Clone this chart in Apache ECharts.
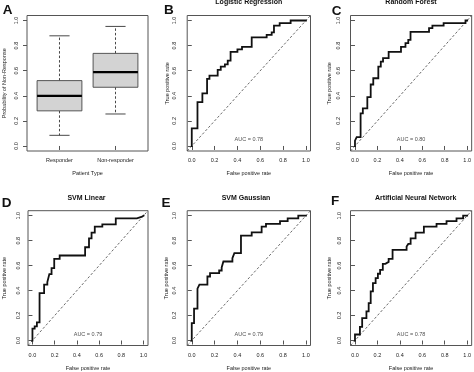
<!DOCTYPE html>
<html><head><meta charset="utf-8">
<script src="https://cdn.jsdelivr.net/npm/echarts@6/dist/echarts.min.js"></script>
<style>html,body{margin:0;padding:0;background:#fff}#c{width:474px;height:372px}</style>
</head><body><div id="c"></div>
<script>
// ---- Panel A: box plot data ----
const categories = ['Responder', 'Non-responder'];
const boxMin = [0.085, 0.255];
const boxQ1 = [0.28, 0.468];
const boxMedian = [0.40, 0.588];
const boxQ3 = [0.521, 0.738];
const boxMax = [0.878, 0.953];

// ---- Panels B-F: ROC curves (points where each step rises) ----
const rocTitles = ['Logistic Regression', 'Random Forest', 'SVM Linear', 'SVM Gaussian', 'Artificial Neural Network'];
const aucValues = ['0.78', '0.80', '0.79', '0.79', '0.78'];

const lrFpr = [0, 0, 0.05, 0.093, 0.134, 0.155, 0.227, 0.254, 0.29, 0.315, 0.34, 0.40, 0.44, 0.525, 0.656, 0.70, 0.72, 0.77, 0.866, 1.0];
const lrTpr = [0, 0.14, 0.35, 0.42, 0.535, 0.56, 0.606, 0.633, 0.65, 0.68, 0.75, 0.77, 0.79, 0.865, 0.885, 0.905, 0.96, 0.98, 1.0, 1.0];

const rfFpr = [0, 0, 0.015, 0.05, 0.07, 0.11, 0.14, 0.163, 0.208, 0.23, 0.25, 0.30, 0.41, 0.45, 0.475, 0.495, 0.66, 0.69, 0.79, 0.985, 1.0];
const rfTpr = [0, 0.043, 0.07, 0.26, 0.30, 0.39, 0.49, 0.54, 0.633, 0.673, 0.70, 0.75, 0.79, 0.82, 0.845, 0.91, 0.94, 0.96, 0.98, 1.0, 1.0];

const svmLinFpr = [0, 0, 0.02, 0.04, 0.064, 0.105, 0.134, 0.152, 0.172, 0.196, 0.245, 0.474, 0.509, 0.532, 0.561, 0.629, 0.75, 0.94, 0.98, 1.0];
const svmLinTpr = [0, 0.096, 0.114, 0.146, 0.38, 0.447, 0.468, 0.532, 0.58, 0.654, 0.681, 0.747, 0.819, 0.864, 0.912, 0.93, 0.979, 0.99, 1.0, 1.0];

const svmGauFpr = [0, 0, 0.02, 0.05, 0.067, 0.137, 0.16, 0.24, 0.262, 0.277, 0.356, 0.373, 0.431, 0.525, 0.612, 0.65, 0.773, 0.84, 0.933, 1.0];
const svmGauTpr = [0, 0.14, 0.255, 0.415, 0.447, 0.513, 0.54, 0.561, 0.585, 0.633, 0.66, 0.70, 0.84, 0.867, 0.912, 0.934, 0.957, 0.979, 1.0, 1.0];

const annFpr = [0, 0, 0.044, 0.064, 0.102, 0.122, 0.14, 0.16, 0.184, 0.204, 0.224, 0.248, 0.271, 0.30, 0.335, 0.46, 0.475, 0.496, 0.54, 0.614, 0.727, 0.816, 0.905, 0.964, 1.0];
const annTpr = [0, 0.048, 0.109, 0.18, 0.234, 0.30, 0.394, 0.46, 0.50, 0.535, 0.566, 0.614, 0.63, 0.654, 0.726, 0.753, 0.774, 0.819, 0.864, 0.912, 0.934, 0.957, 0.979, 1.0, 1.0];

const rocFpr = [lrFpr, rfFpr, svmLinFpr, svmGauFpr, annFpr];
const rocTpr = [lrTpr, rfTpr, svmLinTpr, svmGauTpr, annTpr];

const tickValues = [0, 0.2, 0.4, 0.6, 0.8, 1.0];
const panelLetters = ['A', 'B', 'C', 'D', 'E', 'F'];

// ---- layout / style ----
const FONT = '"Liberation Sans", Arial, Helvetica, sans-serif';
const AXC = '#555';
const TXT = '#222';
const FS = 5.5;

const grids = [
  { left: 24.8, top: 15.5, width: 123.2, height: 135.5 },
  { left: 187.2, top: 15.5, width: 123.3, height: 135.5 },
  { left: 350.5, top: 15.5, width: 121.3, height: 135.5 },
  { left: 24.8, top: 210.7, width: 123.2, height: 135.5 },
  { left: 187.2, top: 210.7, width: 123.3, height: 135.5 },
  { left: 350.5, top: 210.7, width: 121.3, height: 135.5 }
].map(g => Object.assign(g, { show: true, borderColor: AXC, borderWidth: 1, backgroundColor: 'transparent', containLabel: false }));

const yLabelMargin = [7.5, 10, 9, 7, 9.5, 8];
const yNameGap = [20, 17, 18.5, 21, 17.5, 18.5];

function fmt1(v) { return (Math.round(v * 10) / 10).toFixed(1); }

const xAxes = [], yAxes = [];
for (let i = 0; i < 6; i++) {
  const isBox = i === 0;
  xAxes.push({
    type: 'value', gridIndex: i,
    min: isBox ? 0.42 : -0.04, max: isBox ? 2.58 : 1.04,
    axisLine: { show: false }, splitLine: { show: false },
    axisTick: { show: true, inside: false, length: 4, lineStyle: { color: AXC, width: 1 },
      customValues: isBox ? [1, 2] : tickValues },
    axisLabel: { customValues: isBox ? [1, 2] : tickValues, margin: 6.5, fontSize: FS, color: TXT, fontFamily: FONT,
      formatter: isBox ? (v => categories[Math.round(v) - 1]) : fmt1 },
    name: isBox ? 'Patient Type' : 'False positive rate',
    nameLocation: 'middle', nameGap: 19.5,
    nameTextStyle: { fontSize: FS, color: TXT, fontFamily: FONT }
  });
  yAxes.push({
    type: 'value', gridIndex: i, min: -0.04, max: 1.04,
    axisLine: { show: false }, splitLine: { show: false },
    axisTick: { show: true, inside: false, length: 4, lineStyle: { color: AXC, width: 1 }, customValues: tickValues },
    axisLabel: { customValues: tickValues, rotate: 90, margin: yLabelMargin[i], fontSize: FS, color: TXT, fontFamily: FONT, formatter: fmt1 },
    name: isBox ? 'Probability of Non-Response' : 'True positive rate',
    nameLocation: 'middle', nameGap: yNameGap[i],
    nameTextStyle: { fontSize: FS, color: TXT, fontFamily: FONT }
  });
}

const series = [];
// box plot (panel A)
const boxData = categories.map((c, k) => [k + 1, boxMin[k], boxQ1[k], boxMedian[k], boxQ3[k], boxMax[k]]);
series.push({
  type: 'custom', xAxisIndex: 0, yAxisIndex: 0, silent: true,
  encode: { x: 0, y: [1, 2, 3, 4, 5] },
  data: boxData,
  renderItem: function (params, api) {
    const x = api.value(0);
    const pLo = api.coord([x, api.value(1)]);
    const pQ1 = api.coord([x, api.value(2)]);
    const pMed = api.coord([x, api.value(3)]);
    const pQ3 = api.coord([x, api.value(4)]);
    const pHi = api.coord([x, api.value(5)]);
    const half = api.size([0.8, 0])[0] / 2;
    const cap = half * 0.45;
    const cx = pMed[0];
    const dash = { stroke: '#333', lineWidth: 0.9, lineDash: [2.5, 2] };
    const solid = { stroke: '#333', lineWidth: 0.9 };
    return {
      type: 'group', children: [
        { type: 'line', shape: { x1: cx, y1: pQ3[1], x2: cx, y2: pHi[1] }, style: dash },
        { type: 'line', shape: { x1: cx, y1: pQ1[1], x2: cx, y2: pLo[1] }, style: dash },
        { type: 'line', shape: { x1: cx - cap, y1: pHi[1], x2: cx + cap, y2: pHi[1] }, style: solid },
        { type: 'line', shape: { x1: cx - cap, y1: pLo[1], x2: cx + cap, y2: pLo[1] }, style: solid },
        { type: 'rect', shape: { x: cx - half, y: pQ3[1], width: half * 2, height: pQ1[1] - pQ3[1] },
          style: { fill: '#d3d3d3', stroke: '#444', lineWidth: 0.9 } },
        { type: 'line', shape: { x1: cx - half, y1: pMed[1], x2: cx + half, y2: pMed[1] }, style: { stroke: '#000', lineWidth: 2.2 } }
      ]
    };
  }
});

// ROC panels
for (let r = 0; r < 5; r++) {
  const gi = r + 1;
  series.push({
    type: 'line', xAxisIndex: gi, yAxisIndex: gi, silent: true, symbol: 'none',
    data: [[-0.04, -0.04], [1.04, 1.04]],
    lineStyle: { color: '#444', width: 0.8, type: [2.5, 2] }, z: 2
  });
  series.push({
    type: 'line', xAxisIndex: gi, yAxisIndex: gi, silent: true, symbol: 'none', step: 'end',
    data: rocFpr[r].map((f, k) => [f, rocTpr[r][k]]),
    lineStyle: { color: '#111', width: 1.8, cap: 'square', join: 'miter' }, z: 3
  });
  series.push({
    type: 'scatter', xAxisIndex: gi, yAxisIndex: gi, silent: true, symbolSize: 0,
    data: [[0.5, 0.05]],
    label: { show: true, position: 'inside', formatter: 'AUC = ' + aucValues[r], fontSize: FS, color: TXT, fontFamily: FONT }
  });
}

// titles and panel letters
const letterPos = [[7.5, 10], [168.8, 10], [336.5, 11.3], [6.5, 202.8], [166, 203], [335, 201.7]];
const titlePos = [[248.8, 2.3], [411, 2.3], [86.5, 198.3], [246, 198.3], [415.7, 198]];
const graphic = [];
panelLetters.forEach((L, i) => graphic.push({
  type: 'text', x: letterPos[i][0], y: letterPos[i][1], silent: true,
  style: { text: L, font: 'bold 13.5px ' + FONT, fill: '#111', textAlign: 'center', textVerticalAlign: 'middle' }
}));
rocTitles.forEach((t, i) => graphic.push({
  type: 'text', x: titlePos[i][0], y: titlePos[i][1], silent: true,
  style: { text: t, font: 'bold 7px ' + FONT, fill: '#111', textAlign: 'center', textVerticalAlign: 'middle' }
}));

const chart = echarts.init(document.getElementById('c'), null, { renderer: 'canvas' });
chart.setOption({
  animation: false,
  backgroundColor: '#fff',
  textStyle: { fontFamily: FONT },
  grid: grids, xAxis: xAxes, yAxis: yAxes, series: series, graphic: graphic
});
</script></body></html>
